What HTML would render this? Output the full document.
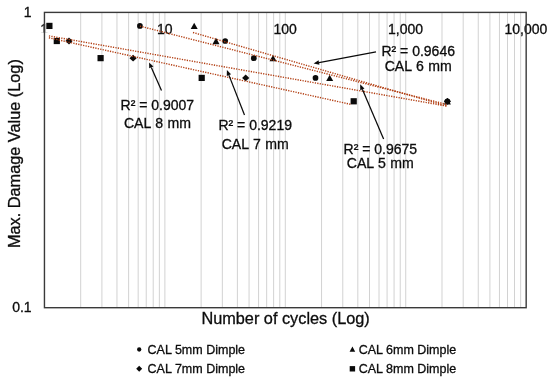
<!DOCTYPE html>
<html><head><meta charset="utf-8"><title>Chart</title>
<style>html,body{margin:0;padding:0;background:#fff}svg{display:block}text{font-family:"Liberation Sans",Arial,sans-serif;fill:#0c0c0c;stroke:#0c0c0c;stroke-width:0.3px}</style></head><body>
<svg width="550" height="379" viewBox="0 0 550 379">
<rect width="550" height="379" fill="#fff"/>
<defs><clipPath id="c1"><rect x="38" y="20" width="12" height="12.6"/></clipPath></defs>
<path d="M80.70 12.4V307.70M101.91 12.4V307.70M116.96 12.4V307.70M128.63 12.4V307.70M138.16 12.4V307.70M146.23 12.4V307.70M153.21 12.4V307.70M159.37 12.4V307.70M164.88 12.4V307.70M201.13 12.4V307.70M222.34 12.4V307.70M237.39 12.4V307.70M249.06 12.4V307.70M258.59 12.4V307.70M266.66 12.4V307.70M273.64 12.4V307.70M279.80 12.4V307.70M285.31 12.4V307.70M321.56 12.4V307.70M342.77 12.4V307.70M357.82 12.4V307.70M369.49 12.4V307.70M379.02 12.4V307.70M387.09 12.4V307.70M394.07 12.4V307.70M400.23 12.4V307.70M405.74 12.4V307.70M441.99 12.4V307.70M463.20 12.4V307.70M478.25 12.4V307.70M489.92 12.4V307.70M499.45 12.4V307.70M507.52 12.4V307.70M514.50 12.4V307.70M520.66 12.4V307.70" stroke="#d2d2d2" stroke-width="1" fill="none"/>
<text x="44.25" y="34" font-size="14" text-anchor="middle" clip-path="url(#c1)">1</text>
<text x="164.68" y="34" font-size="14" text-anchor="middle">10</text>
<text x="285.11" y="34" font-size="14" text-anchor="middle">100</text>
<text x="405.54" y="34" font-size="14" text-anchor="middle">1,000</text>
<text x="525.97" y="34" font-size="14" text-anchor="middle">10,000</text>
<rect x="44.45" y="12.4" width="481.72" height="295.3" fill="none" stroke="#3a3a3a" stroke-width="1.4"/>
<text x="31.6" y="16.6" font-size="14" text-anchor="end">1</text>
<text x="31.6" y="312.3" font-size="14" text-anchor="end">0.1</text>
<text x="285.6" y="324.3" font-size="16.3" text-anchor="middle">Number of cycles (Log)</text>
<text transform="translate(20.3 153.6) rotate(-90)" font-size="16.3" text-anchor="middle">Max. Damage Value (Log)</text>
<g fill="#0a0a0a">
<circle cx="139.90" cy="25.91" r="2.85"/>
<circle cx="225.20" cy="41.02" r="2.85"/>
<circle cx="253.80" cy="58.14" r="2.85"/>
<circle cx="315.50" cy="77.91" r="2.85"/>
<circle cx="447.40" cy="101.29" r="2.85"/>
<path d="M69.00 37.62L72.60 41.02L69.00 44.42L65.40 41.02Z"/>
<path d="M133.10 54.74L136.70 58.14L133.10 61.54L129.50 58.14Z"/>
<path d="M245.70 74.51L249.30 77.91L245.70 81.31L242.10 77.91Z"/>
<path d="M447.40 97.89L451.00 101.29L447.40 104.69L443.80 101.29Z"/>
<rect x="46.30" y="22.81" width="6.2" height="6.2"/>
<rect x="53.70" y="37.92" width="6.2" height="6.2"/>
<rect x="97.50" y="55.04" width="6.2" height="6.2"/>
<rect x="198.60" y="74.81" width="6.2" height="6.2"/>
<rect x="350.60" y="98.19" width="6.2" height="6.2"/>
<path d="M194.20 22.71L197.70 29.11L190.70 29.11Z"/>
<path d="M216.00 37.82L219.50 44.22L212.50 44.22Z"/>
<path d="M273.00 54.94L276.50 61.34L269.50 61.34Z"/>
<path d="M329.70 74.71L333.20 81.11L326.20 81.11Z"/>
<path d="M447.40 98.09L450.90 104.49L443.90 104.49Z"/>
</g>
<line x1="139.9" y1="26.1" x2="447.3" y2="104.6" stroke="#b23e12" stroke-width="1.4" stroke-dasharray="1.25 1.25"/>
<line x1="193" y1="32.5" x2="447.3" y2="106.2" stroke="#b23e12" stroke-width="1.4" stroke-dasharray="1.25 1.25"/>
<line x1="48.9" y1="35.9" x2="447.3" y2="106.2" stroke="#b23e12" stroke-width="1.4" stroke-dasharray="1.25 1.25"/>
<line x1="48.9" y1="37.8" x2="350.5" y2="104.3" stroke="#b23e12" stroke-width="1.4" stroke-dasharray="1.25 1.25"/>
<line x1="161.5" y1="90.5" x2="151.32" y2="67.43" stroke="#0a0a0a" stroke-width="1.25"/><path d="M149.1 62.4L153.42 66.50L149.22 68.36Z" fill="#0a0a0a"/>
<line x1="244.5" y1="115.1" x2="228.90" y2="75.12" stroke="#0a0a0a" stroke-width="1.25"/><path d="M226.9 70L231.04 74.29L226.76 75.96Z" fill="#0a0a0a"/>
<line x1="376" y1="51.8" x2="319.00" y2="62.58" stroke="#0a0a0a" stroke-width="1.25"/><path d="M313.6 63.6L318.58 60.32L319.43 64.84Z" fill="#0a0a0a"/>
<line x1="383.6" y1="139.1" x2="362.36" y2="89.36" stroke="#0a0a0a" stroke-width="1.25"/><path d="M360.2 84.3L364.48 88.45L360.24 90.26Z" fill="#0a0a0a"/>
<text x="157.4" y="110" font-size="14" text-anchor="middle">R² = 0.9007</text><text x="157.4" y="128.2" font-size="14.1" word-spacing="0.5" text-anchor="middle">CAL 8 mm</text>
<text x="255.2" y="130.2" font-size="14" text-anchor="middle">R² = 0.9219</text><text x="255.2" y="148.7" font-size="14.1" word-spacing="0.5" text-anchor="middle">CAL 7 mm</text>
<text x="418.2" y="56.4" font-size="14" text-anchor="middle">R² = 0.9646</text><text x="418.2" y="70.5" font-size="14.1" word-spacing="0.5" text-anchor="middle">CAL 6 mm</text>
<text x="380.3" y="153.6" font-size="14" text-anchor="middle">R² = 0.9675</text><text x="380.3" y="167.8" font-size="14.1" word-spacing="0.5" text-anchor="middle">CAL 5 mm</text>
<g fill="#0a0a0a">
<circle cx="139.20" cy="349.50" r="2.15"/>
<path d="M139.20 365.80L142.20 368.80L139.20 371.80L136.20 368.80Z"/>
<path d="M352.40 346.60L355.20 351.80L349.60 351.80Z"/>
<rect x="349.70" y="366.10" width="5.4" height="5.4"/>
</g>
<text x="147.6" y="353.5" font-size="12.5">CAL 5mm Dimple</text>
<text x="147.6" y="372.5" font-size="12.5">CAL 7mm Dimple</text>
<text x="358.7" y="353.5" font-size="12.5">CAL 6mm Dimple</text>
<text x="358.7" y="372.5" font-size="12.5">CAL 8mm Dimple</text>
</svg></body></html>
